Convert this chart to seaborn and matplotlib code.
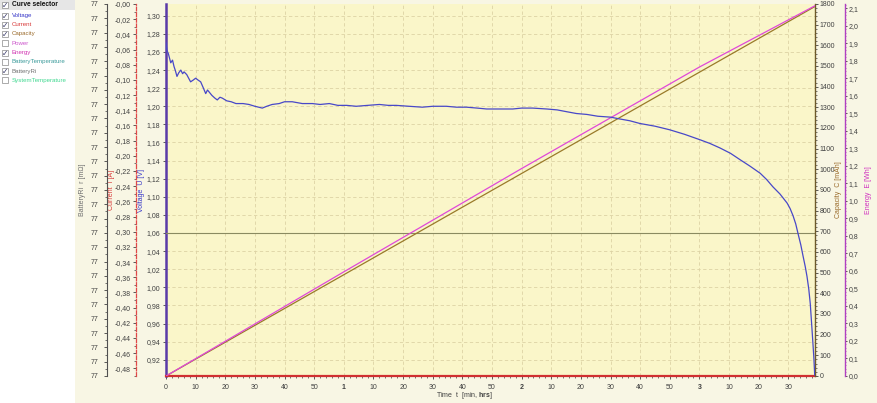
import matplotlib
matplotlib.use("Agg")
import matplotlib.pyplot as plt
import seaborn as sns
import pandas as pd
from matplotlib import font_manager
from matplotlib.ticker import FixedLocator, MultipleLocator
from matplotlib.patches import Rectangle

# ---------------- data ----------------
time_v = [0, 0.3, 0.8, 1.6, 2.2, 2.7, 3.2, 3.7, 4.3, 5.0, 5.6, 6.1, 7.0, 8.3, 9.2,
          10.0, 10.8, 11.7, 12.5, 13.4, 14.0, 14.5, 15.5, 16.5, 17.3, 18.2, 19.0,
          20.5, 22.0, 23.6, 26, 28, 30, 32.5, 34, 35.8, 38.2, 40, 42.6, 46, 49.4,
          52, 55.1, 58, 61, 64.2, 68, 72.0, 75, 77.7, 82, 86.5, 90, 94.6, 98,
          101.4, 105, 108.2, 113, 117.0, 120, 123.7, 128.5, 132, 135.2, 138.5,
          142.0, 145.7, 150, 153.1, 156.5, 159.9, 165, 170.0, 175, 180.2, 183.5,
          186.9, 190.5, 193.7, 197, 200.5, 202.7, 204.8, 207.2, 209.6, 210.6,
          211.6, 212.5, 213.3, 214.2, 215.0, 215.7, 216.3, 216.9, 217.4, 218.0,
          218.6, 218.9]
voltage = [1.270, 1.262, 1.258, 1.248, 1.251, 1.244, 1.239, 1.233, 1.237, 1.240,
           1.236, 1.238, 1.235, 1.227, 1.229, 1.231, 1.229, 1.227, 1.221, 1.214,
           1.218, 1.216, 1.212, 1.209, 1.207, 1.210, 1.209, 1.206, 1.205, 1.203,
           1.203, 1.202, 1.200, 1.198, 1.200, 1.202, 1.203, 1.205, 1.205, 1.203,
           1.203, 1.202, 1.203, 1.201, 1.201, 1.200, 1.201, 1.202, 1.201, 1.201,
           1.200, 1.199, 1.200, 1.200, 1.199, 1.199, 1.198, 1.197, 1.197, 1.197,
           1.198, 1.198, 1.197, 1.196, 1.194, 1.192, 1.191, 1.189, 1.188, 1.186,
           1.184, 1.181, 1.178, 1.174, 1.169, 1.163, 1.159, 1.154, 1.148, 1.141,
           1.134, 1.126, 1.119, 1.111, 1.103, 1.093, 1.087, 1.079, 1.070, 1.059,
           1.047, 1.034, 1.023, 1.012, 0.998, 0.982, 0.953, 0.923, 0.903]

time_lin = [0, 60, 120, 180, 219]
capacity = [0, 490, 980, 1470, 1788]      # mAh
energy = [0, 0.595, 1.185, 1.765, 2.115]  # Wh
time_cur = [0, 219]
current = [-0.49, -0.49]                  # A
cutoff_voltage = 1.06

x_ticks = list(range(0, 220, 10))
x_tick_labels = ["0", "10", "20", "30", "40", "50",
                 "1", "10", "20", "30", "40", "50",
                 "2", "10", "20", "30", "40", "50",
                 "3", "10", "20", "30"]
hour_labels = ["1", "2", "3"]

volt_ticks = [0.92, 0.94, 0.96, 0.98, 1.00, 1.02, 1.04, 1.06, 1.08, 1.10, 1.12,
              1.14, 1.16, 1.18, 1.20, 1.22, 1.24, 1.26, 1.28, 1.30]
current_ticks = [0.00, -0.02, -0.04, -0.06, -0.08, -0.10, -0.12, -0.14, -0.16,
                 -0.18, -0.20, -0.22, -0.24, -0.26, -0.28, -0.30, -0.32, -0.34,
                 -0.36, -0.38, -0.40, -0.42, -0.44, -0.46, -0.48]
cap_ticks = list(range(0, 1801, 100))
energy_ticks = [0.0, 0.1, 0.2, 0.3, 0.4, 0.5, 0.6, 0.7, 0.8, 0.9, 1.0, 1.1, 1.2,
                1.3, 1.4, 1.5, 1.6, 1.7, 1.8, 1.9, 2.0, 2.1]
ri_tick_labels = ["77"] * 27

legend_items = ["Curve selector", "Voltage", "Current", "Capacity", "Power",
                "Energy", "BatteryTemperature", "BatteryRi", "SystemTemperature"]
legend_checked = [True, True, True, True, False, True, False, True, False]
legend_colors = ["#111111", "#3535c8", "#d83a3a", "#9a6a2a", "#cc55cc",
                 "#d030b0", "#3a9a9a", "#707070", "#40d890"]

# ---------------- style ----------------
W, H = 877, 403
_names = {f.name for f in font_manager.fontManager.ttflist}
FONT = "Liberation Sans Narrow" if "Liberation Sans Narrow" in _names else "Liberation Sans"
plt.rcParams["font.family"] = [FONT, "DejaVu Sans"]
plt.rcParams["mathtext.fontset"] = "custom"
plt.rcParams["mathtext.bf"] = FONT + ":bold"
FS = 5.0
TXT = "#404040"
PLOT_BG = "#faf6c9"
FIG_BG = "#f8f6e4"

fig = plt.figure(figsize=(W / 100, H / 100), dpi=100, facecolor=FIG_BG)

def fx(px):
    return px / W

def fy(py):
    return 1 - py / H

L, R, T, B = 166, 815, 4, 376
ax = fig.add_axes([fx(L), fy(B), fx(R - L), (B - T) / H])
ax.set_facecolor(PLOT_BG)
ax.set_xlim(0, 219)
ax.set_ylim(0.902, 1.313)
AW = R - L
AH = B - T

df_v = pd.DataFrame({"t": time_v, "U": voltage})
df_lin = pd.DataFrame({"t": time_lin, "C": capacity, "E": energy})
df_i = pd.DataFrame({"t": time_cur, "I": current})

ax.grid(True, ls=(0, (4, 3)), color="#ddd3a4", lw=0.6)
ax.set_axisbelow(True)
ax.axhline(cutoff_voltage, color="#8a8a60", lw=0.8, zorder=3)

# x axis
ax.xaxis.set_major_locator(FixedLocator(x_ticks))
ax.set_xticklabels(x_tick_labels)
ax.xaxis.set_minor_locator(MultipleLocator(2))
for lab in ax.get_xticklabels():
    if lab.get_text() in hour_labels:
        lab.set_fontweight("bold")
        lab.set_color("#222222")
ax.tick_params(axis="x", which="major", labelsize=FS, colors=TXT, length=2.5,
               width=0.6, pad=3)
ax.tick_params(axis="x", which="minor", length=1.5, width=0.5, colors=TXT)
ax.set_xlabel(r"Time  t  [min, $\mathbf{hrs}$]", fontsize=FS, color=TXT)
ax.xaxis.set_label_coords((464 - L) / AW, -(390 - B) / AH)

# voltage axis (main left)
ax.yaxis.set_major_locator(FixedLocator(volt_ticks))
ax.set_yticklabels([f"{v:.2f}".replace(".", ",") for v in volt_ticks])
ax.tick_params(axis="y", labelsize=FS, colors=TXT, length=2, width=0.6,
               direction="out", pad=2)
for s in ["top", "right"]:
    ax.spines[s].set_visible(False)
ax.spines["left"].set_color("#5a3aa8")
ax.spines["left"].set_linewidth(1.8)
ax.spines["bottom"].set_color("#808080")
ax.spines["bottom"].set_linewidth(0.6)
ax.set_ylabel("Voltage  U [V]", fontsize=FS, color="#3535c8")
ax.yaxis.set_label_coords((145 - L) / AW, 0.5)

# current axis
ax_i = ax.twinx()
ax_i.set_ylim(-0.49, 0.0)
ax_i.yaxis.set_ticks_position("left")
ax_i.yaxis.set_label_position("left")
ax_i.spines["left"].set_position(("axes", (136 - L) / AW))
for s in ["top", "right", "bottom"]:
    ax_i.spines[s].set_visible(False)
ax_i.spines["left"].set_visible(True)
ax_i.spines["left"].set_color("#e04848")
ax_i.spines["left"].set_linestyle((0, (3, 1.5)))
ax_i.spines["left"].set_linewidth(0.9)
ax_i.yaxis.set_major_locator(FixedLocator(current_ticks))
ax_i.set_yticklabels(["-" + f"{abs(v):.2f}".replace(".", ",") for v in current_ticks])
ax_i.yaxis.set_minor_locator(MultipleLocator(0.01))
ax_i.tick_params(axis="y", which="major", labelsize=FS, colors=TXT, length=2,
                 width=0.6, pad=1.5)
ax_i.tick_params(axis="y", which="minor", length=1.2, width=0.5, colors=TXT)
ax_i.set_ylabel("Current  I [A]", fontsize=FS, color="#d83a3a")
ax_i.yaxis.set_label_coords((115 - L) / AW, 0.5)
sns.lineplot(data=df_i, x="t", y="I", ax=ax_i, color="#d03030", lw=1.6,
             clip_on=False)
ax_i.set_xlabel("")

# Ri axis
ax_r = ax.twinx()
ax_r.set_ylim(0, 26)
ax_r.yaxis.set_ticks_position("left")
ax_r.yaxis.set_label_position("left")
ax_r.spines["left"].set_position(("axes", (107 - L) / AW))
for s in ["top", "right", "bottom"]:
    ax_r.spines[s].set_visible(False)
ax_r.spines["left"].set_visible(True)
ax_r.spines["left"].set_color("#505050")
ax_r.spines["left"].set_linewidth(0.8)
ax_r.yaxis.set_major_locator(FixedLocator(list(range(len(ri_tick_labels)))))
ax_r.set_yticklabels(ri_tick_labels)
ax_r.yaxis.set_minor_locator(MultipleLocator(0.5))
ax_r.tick_params(axis="y", which="major", labelsize=FS, colors=TXT, length=2,
                 width=0.6, pad=4)
ax_r.tick_params(axis="y", which="minor", length=1.2, width=0.5, colors=TXT)
ax_r.set_ylabel("BatteryRi  r [m\u03a9]", fontsize=FS, color="#707070")
ax_r.yaxis.set_label_coords((86 - L) / AW, 0.5)

# capacity axis
ax_c = ax.twinx()
ax_c.set_ylim(0, 1800)
for s in ["top", "left", "bottom"]:
    ax_c.spines[s].set_visible(False)
ax_c.spines["right"].set_color("#6e5a2a")
ax_c.spines["right"].set_linewidth(1.0)
ax_c.yaxis.set_major_locator(FixedLocator(cap_ticks))
ax_c.yaxis.set_minor_locator(MultipleLocator(20))
ax_c.tick_params(axis="y", which="major", labelsize=FS, colors=TXT, length=2,
                 width=0.6, pad=1.5)
ax_c.tick_params(axis="y", which="minor", length=1.2, width=0.5, colors=TXT)
sns.lineplot(data=df_lin, x="t", y="C", ax=ax_c, color="#9a7a2a", lw=0.9)
ax_c.set_ylabel("Capacity  C [mAh]", fontsize=FS, color="#9a6a2a")
ax_c.yaxis.set_label_coords((835 - L) / AW, 0.5)
ax_c.set_xlabel("")

# energy axis
ax_e = ax.twinx()
ax_e.set_ylim(0, 2.125)
ax_e.spines["right"].set_position(("axes", (845 - L) / AW))
for s in ["top", "left", "bottom"]:
    ax_e.spines[s].set_visible(False)
ax_e.spines["right"].set_color("#b040c0")
ax_e.spines["right"].set_linestyle((0, (1.5, 1)))
ax_e.spines["right"].set_linewidth(1.0)
ax_e.yaxis.set_major_locator(FixedLocator(energy_ticks))
ax_e.set_yticklabels([f"{v:.1f}".replace(".", ",") for v in energy_ticks])
ax_e.yaxis.set_minor_locator(MultipleLocator(0.02))
ax_e.tick_params(axis="y", which="major", labelsize=FS, colors=TXT, length=1.2,
                 width=0.6, pad=1.2)
ax_e.tick_params(axis="y", which="minor", length=0.8, width=0.5, colors="#b040c0")
sns.lineplot(data=df_lin, x="t", y="E", ax=ax_e, color="#e048d8", lw=0.9)
ax_e.set_ylabel("Energy  E [Wh]", fontsize=FS, color="#d030c0")
ax_e.yaxis.set_label_coords((865 - L) / AW, 0.5)
ax_e.set_xlabel("")

# voltage curve on top
ax_v = ax.twinx()
ax_v.set_ylim(ax.get_ylim())
ax_v.axis("off")
sns.lineplot(data=df_v, x="t", y="U", ax=ax_v, color="#4848c8", lw=0.9)
ax_v.set_xlim(0, 219)
for a in (ax_i, ax_r, ax_c, ax_e):
    a.set_xlim(0, 219)

# ---------------- curve selector panel ----------------
pan = fig.add_axes([0, 0, fx(75), 1])
pan.set_xlim(0, 75)
pan.set_ylim(H, 0)
pan.axis("off")
pan.add_patch(Rectangle((0, 0), 75, H, facecolor="white", edgecolor="none"))
pan.add_patch(Rectangle((0, 0), 75, 10, facecolor="#e6e6e6", edgecolor="none"))
row_y = [5, 15.7, 25, 34, 43.3, 52.7, 61.7, 71, 80.3]
for i, (name, chk, col) in enumerate(zip(legend_items, legend_checked, legend_colors)):
    y = row_y[i]
    pan.add_patch(Rectangle((2.3, y - 3), 6, 6, facecolor="white",
                            edgecolor="#8a8a8a", lw=0.5))
    if chk:
        pan.text(5.3, y + 0.3, "\u2713", fontsize=5.5, color="#3a3a6a",
                 ha="center", va="center", family="DejaVu Sans")
    pan.text(12, y, name, fontsize=4.4 if i else 4.8, color=col, va="center",
             ha="left", fontweight="bold" if i == 0 else "normal")

fig.savefig("out.png", dpi=100, facecolor=FIG_BG)
